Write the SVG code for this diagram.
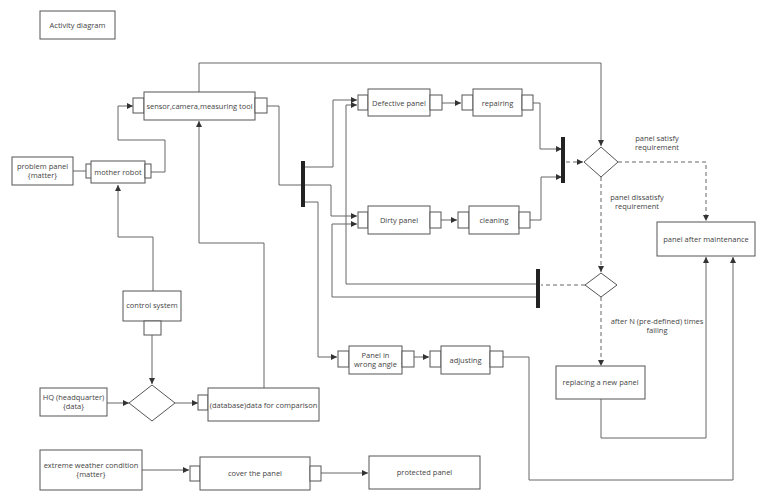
<svg xmlns="http://www.w3.org/2000/svg" width="768" height="503" viewBox="0 0 768 503">
<style>
rect{fill:#fff;stroke:#555;stroke-width:1}
text{font-family:"Open Sans","Liberation Sans",sans-serif;font-size:7.5px;fill:#444;text-anchor:middle}
.c path{fill:none;stroke:#666;stroke-width:1}
.c .d{stroke-dasharray:4,3}
.bar{fill:#222;stroke:none}
polygon.dia{fill:#fff;stroke:#555}
</style>
<defs><marker id="a" markerWidth="6" markerHeight="6" refX="6" refY="3" orient="auto" markerUnits="userSpaceOnUse"><path d="M0,0L6,3L0,6Z" fill="#333"/></marker></defs>
<rect width="768" height="503" style="fill:#fff;stroke:none"/>
<g class="c">
<path d="M150,172H165V140H118V106H133" marker-end="url(#a)"/>
<path d="M153,291V237H118V185" marker-end="url(#a)"/>
<path d="M152,335V384" marker-end="url(#a)"/>
<path d="M107,403H129" marker-end="url(#a)"/>
<path d="M175,403H198" marker-end="url(#a)"/>
<path d="M264,388V243H199V121" marker-end="url(#a)"/>
<path d="M199,92V63H601V146" marker-end="url(#a)"/>
<path d="M267,106H279V185H303"/>
<path d="M303,167H333V100H357" marker-end="url(#a)"/>
<path d="M303,185H331V216H357" marker-end="url(#a)"/>
<path d="M303,202H318V357H337" marker-end="url(#a)"/>
<path d="M538,284H346V105H357" marker-end="url(#a)"/>
<path d="M538,297H332V224H357" marker-end="url(#a)"/>
<path d="M442,103H461" marker-end="url(#a)"/>
<path d="M441,220H457" marker-end="url(#a)"/>
<path d="M533,103H540V149H562" marker-end="url(#a)"/>
<path d="M530,220H541V177H562" marker-end="url(#a)"/>
<path d="M414,357H429" marker-end="url(#a)"/>
<path d="M503,357H529V480H733V257" marker-end="url(#a)"/>
<path d="M601,399V438H706V257" marker-end="url(#a)"/>
<path class="d" d="M566,162H583" marker-end="url(#a)"/>
<path class="d" d="M618,162H706V221" marker-end="url(#a)"/>
<path class="d" d="M601,177V272" marker-end="url(#a)"/>
<path class="d" d="M585,285H541"/>
<path class="d" d="M601,297V366" marker-end="url(#a)"/>
<path d="M142,470H189" marker-end="url(#a)"/>
<path d="M321,473H368" marker-end="url(#a)"/>
<path d="M73,171H86"/>
</g>
<g id="title"><rect x="40" y="11" width="75" height="28"/><text x="77.5" y="28">Activity diagram</text></g>
<g id="problem"><rect x="12" y="157" width="61" height="28"/><text x="42.5" y="169">problem panel</text><text x="42.5" y="178">{matter}</text></g>
<g id="mother"><rect x="86" y="164" width="6" height="14"/><rect x="91" y="161" width="54" height="22"/><rect x="145" y="164" width="6" height="14"/><text x="118" y="175">mother robot</text></g>
<g id="sensor"><rect x="133" y="98" width="11" height="15"/><rect x="144" y="92" width="111" height="28"/><rect x="255" y="98" width="12" height="15"/><text x="199.5" y="108.5">sensor,camera,measuring tool</text></g>
<g id="control"><rect x="123" y="291" width="58" height="30"/><text x="152" y="308">control system</text><rect x="144" y="321" width="17" height="14"/></g>
<g id="hq"><rect x="40" y="388" width="67" height="28"/><text x="73.5" y="400">HQ (headquarter)</text><text x="73.5" y="409">{data}</text></g>
<g id="dec1"><polygon class="dia" points="152,385 175,403 152,421 129,403"/></g>
<g id="data"><rect x="198" y="395" width="10" height="15"/><rect x="208" y="388" width="111" height="33"/><text x="263.5" y="408">(database)data for comparison</text></g>
<g id="fork1"><rect class="bar" x="301" y="161" width="4" height="46"/></g>
<g id="defective"><rect x="358" y="95" width="10" height="15"/><rect x="368" y="89" width="62" height="27"/><rect x="430" y="95" width="12" height="15"/><text x="399" y="105.5">Defective panel</text></g>
<g id="repairing"><rect x="462" y="95" width="11" height="15"/><rect x="473" y="89" width="49" height="27"/><rect x="522" y="95" width="11" height="15"/><text x="497.5" y="105.5">repairing</text></g>
<g id="dirty"><rect x="358" y="212" width="10" height="16"/><rect x="368" y="206" width="62" height="28"/><rect x="430" y="212" width="11" height="16"/><text x="399" y="223">Dirty panel</text></g>
<g id="cleaning"><rect x="458" y="212" width="11" height="16"/><rect x="469" y="206" width="50" height="28"/><rect x="519" y="212" width="11" height="16"/><text x="494" y="223">cleaning</text></g>
<g id="join1"><rect class="bar" x="561" y="137" width="4" height="46"/></g>
<g id="dec2"><polygon class="dia" points="601,147 618,162 601,177 584,162"/></g>
<g id="join2"><rect class="bar" x="536" y="269" width="4" height="39"/></g>
<g id="dec3"><polygon class="dia" points="601,273 617,285 601,297 585,285"/></g>
<g id="after"><rect x="657" y="222" width="98" height="34"/><text x="706" y="241.5">panel after maintenance</text></g>
<g id="replace"><rect x="556" y="366" width="89" height="33"/><text x="600.5" y="385">replacing a new panel</text></g>
<g id="wrong"><rect x="338" y="351" width="11" height="16"/><rect x="349" y="346" width="53" height="28"/><rect x="402" y="351" width="12" height="16"/><text x="375.5" y="358">Panel in</text><text x="375.5" y="367">wrong angle</text></g>
<g id="adjusting"><rect x="430" y="351" width="11" height="16"/><rect x="441" y="346" width="49" height="28"/><rect x="490" y="351" width="13" height="16"/><text x="465.5" y="362.5">adjusting</text></g>
<g id="extreme"><rect x="40" y="450" width="102" height="40"/><text x="91" y="468">extreme weather condition</text><text x="91" y="477">{matter}</text></g>
<g id="cover"><rect x="190" y="466" width="10" height="15"/><rect x="200" y="457" width="110" height="33"/><rect x="310" y="466" width="11" height="15"/><text x="255" y="476">cover the panel</text></g>
<g id="protected"><rect x="369" y="456" width="111" height="33"/><text x="424.5" y="475">protected panel</text></g>
<g id="labels">
<text x="657" y="141">panel satisfy</text><text x="657" y="150">requirement</text>
<text x="637" y="200">panel dissatisfy</text><text x="637" y="209">requirement</text>
<text x="657" y="324">after N (pre-defined) times</text><text x="657" y="333">failing</text>
</g>
</svg>
